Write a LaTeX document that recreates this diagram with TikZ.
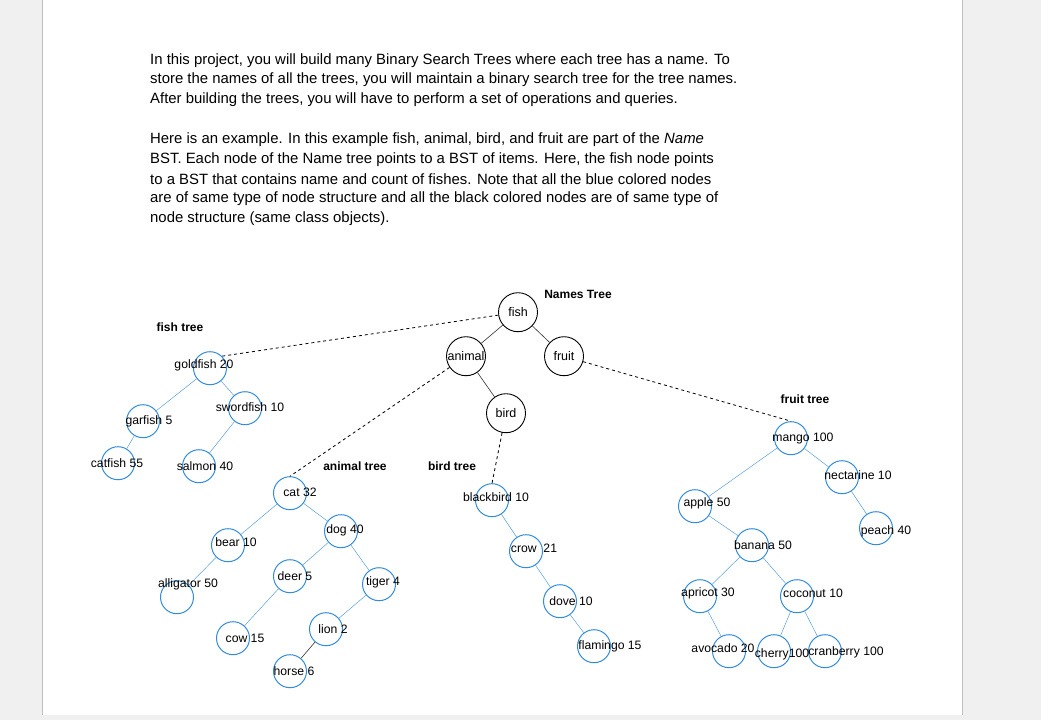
\documentclass[tikz,border=0pt]{standalone}
\usepackage{fontspec}
\setmainfont{Liberation Sans}
\begin{document}
\begin{tikzpicture}[x=1pt,y=-1pt,
 bk/.style={circle,draw=black,line width=0.9pt,minimum size=39pt,inner sep=0pt,font=\fontsize{12.5}{14}\selectfont},
 bl/.style={circle,draw={rgb,255:red,50;green,140;blue,220},line width=1pt,minimum size=33pt,inner sep=0pt},
 lb/.style={font=\fontsize{12.2}{14}\selectfont,inner sep=0pt},
 tt/.style={font=\fontsize{12}{14}\bfseries\selectfont,inner sep=0pt},
 ln/.style={anchor=west,inner sep=0pt,font=\fontsize{14.9}{17}\selectfont},
 be/.style={draw={rgb,255:red,90;green,160;blue,220},line width=0.5pt},
 ke/.style={draw=black!80,line width=0.6pt},
 de/.style={draw=black,dashed,line width=0.8pt}]
\fill[black!6] (0,0) rectangle (1041,720);
\fill[white] (42,0) rectangle (962,715);
\draw[black!25] (42,0) -- (42,715) (962,0) -- (962,715);
\useasboundingbox (0,0) rectangle (1041,720);
\node[ln] (l1) at (150,60) {In this project, you will build many Binary Search Trees where each tree has a name. To};
\node[ln] (l2) at (150,79) {store the names of all the trees, you will maintain a binary search tree for the tree names.};
\node[ln] (l3) at (150,99) {After building the trees, you will have to perform a set of operations and queries.};
\node[ln] (l4) at (150,139) {Here is an example. In this example fish, animal, bird, and fruit are part of the \textit{Name}};
\node[ln] (l5) at (150,159) {BST. Each node of the Name tree points to a BST of items. Here, the fish node points};
\node[ln] (l6) at (150,179) {to a BST that contains name and count of fishes. Note that all the blue colored nodes};
\node[ln] (l7) at (150,198) {are of same type of node structure and all the black colored nodes are of same type of};
\node[ln] (l8) at (150,218) {node structure (same class objects).};
% names tree
\node[bk] (fish) at (518,312) {fish};
\node[bk] (animal) at (466,356) {animal};
\node[bk] (fruit) at (564,356) {fruit};
\node[bk] (bird) at (506,413) {bird};
\draw[ke] (fish)--(animal) (fish)--(fruit) (animal)--(bird);
% blue circles
\foreach \n/\x/\y in {goldfish/210/368,garfish/143/421,swordfish/245/408,catfish/118/463,salmon/199/466,
 cat/290/493,bear/228/545,dog/341/531,alligator/177/597,deer/290/576,tiger/379/584,cow/233/638,lion/326/629,horse/290/671,
 blackbird/492/500,crow/526/551,dove/560/601,flamingo/594/646,
 mango/791/438,nectarine/842/477,apple/695/506,peach/876/528,banana/752/545,apricot/700/596,coconut/797/596,avocado/729/651,cherry/774/651,cranberry/825/651}
 \node[bl] (\n) at (\x,\y) {};
\foreach \a/\b in {goldfish/garfish,goldfish/swordfish,garfish/catfish,swordfish/salmon,
 cat/bear,cat/dog,bear/alligator,dog/deer,dog/tiger,deer/cow,tiger/lion,
 blackbird/crow,crow/dove,dove/flamingo,
 mango/apple,mango/nectarine,nectarine/peach,apple/banana,banana/apricot,banana/coconut,apricot/avocado,coconut/cherry,coconut/cranberry}
 \draw[be] (\a)--(\b);
\draw[ke] (lion)--(horse);
\draw[de] (fish)--(goldfish.north east);
\draw[de] (animal)--(cat.north);
\draw[de] (bird)--(blackbird.north);
\draw[de] (fruit)--(mango.north);
% labels
\foreach \n/\x/\y/\t in {goldfish/204/365/goldfish 20,garfish/149/421/garfish 5,swordfish/250/407/swordfish 10,catfish/117/463/catfish 55,salmon/205/466/salmon 40,
 cat/300/492/cat 32,bear/236/542/bear 10,dog/345/530/dog 40,alligator/188/584/alligator 50,deer/295/576/deer 5,tiger/383/582/tiger 4,cow/245/638/cow 15,lion/333/629/lion 2,horse/294/671/horse 6,
 blackbird/496/497/blackbird 10,crow/534/548/crow\ \ 21,dove/571/601/dove 10,flamingo/610/646/flamingo 15,
 mango/803/438/mango 100,nectarine/858/475/nectarine 10,apple/707/503/apple 50,peach/886/531/peach 40,banana/763/545/banana 50,apricot/708/593/apricot 30,coconut/813/593/coconut 10,avocado/723/648/avocado 20,cherry/782/654/cherry100,cranberry/846/652/cranberry 100}
 \node[lb] (t\n) at (\x,\y) {\t};
\node[tt] (nt) at (578,294) {Names Tree};
\node[tt] (ft) at (180,327) {fish tree};
\node[tt] (at) at (355,466) {animal tree};
\node[tt] (bt) at (452,466) {bird tree};
\node[tt] (frt) at (805,399) {fruit tree};
\end{tikzpicture}
\end{document}
